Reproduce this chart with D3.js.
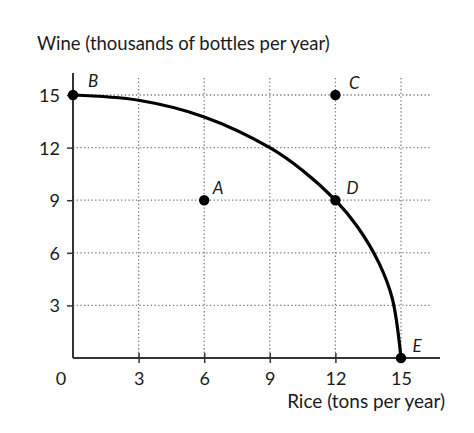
<!DOCTYPE html>
<html><head><meta charset="utf-8">
<script src="https://cdn.jsdelivr.net/npm/d3@7"></script>
<style>body{margin:0;background:#fff}svg{display:block}text{font-family:Lato,"Open Sans",sans-serif;fill:#1a1a1a}</style>
</head><body><svg id="c" width="474" height="433"></svg>
<script>
const xTicks = [3, 6, 9, 12, 15];
const yTicks = [3, 6, 9, 12, 15];
const ppfRice = [0, 3, 6, 9, 10.5, 12, 13, 14, 14.6, 15];
const ppfWine = [15, 14.7, 13.75, 12, 10.7, 9, 7.5, 5.4, 3.4, 0];
const pointLabels = ["B", "A", "C", "D", "E"];
const pointRice = [0, 6, 12, 12, 15];
const pointWine = [15, 9, 15, 9, 0];
const yTitle = "Wine (thousands of bottles per year)";
const xTitle = "Rice (tons per year)";

const svg = d3.select("#c");
const x = d3.scaleLinear().domain([0, 15]).range([73, 401]);
const y = d3.scaleLinear().domain([0, 15]).range([358, 95]);

// grid
const grid = svg.append("g").attr("stroke", "#777").attr("stroke-width", 1.3).attr("stroke-dasharray", "1.3,2.4");
grid.selectAll("line.v").data(xTicks).join("line")
  .attr("x1", d => x(d)).attr("x2", d => x(d)).attr("y1", 78).attr("y2", y(0));
grid.selectAll("line.h").data(yTicks).join("line")
  .attr("y1", d => y(d)).attr("y2", d => y(d)).attr("x1", x(0)).attr("x2", 432);

// axes
const xAxis = d3.axisBottom(x).tickValues(xTicks).tickSize(0).tickPadding(0).tickFormat(d3.format("d"));
const yAxis = d3.axisLeft(y).tickValues(yTicks).tickSize(0).tickPadding(13).tickFormat(d3.format("d"));
const gx = svg.append("g").attr("transform", `translate(0,${y(0)})`).call(xAxis);
const gy = svg.append("g").attr("transform", `translate(${x(0)},0)`).call(yAxis);
gx.select(".domain").remove(); gy.select(".domain").remove();
[gx, gy].forEach(g => g.selectAll("text").attr("font-size", 18).attr("font-family", "Lato").attr("fill", "#1a1a1a"));
gx.selectAll("text").attr("dy", null).attr("y", 27);
gy.selectAll("text").attr("dy", "0.36em");
gx.selectAll(".tick").append("line").attr("y1", -5).attr("y2", 5).attr("stroke", "#333").attr("stroke-width", 1.5);
gy.selectAll(".tick").append("line").attr("x1", -6).attr("x2", 0).attr("stroke", "#333").attr("stroke-width", 1.5);
svg.append("line").attr("x1", x(0)).attr("x2", 440).attr("y1", y(0)).attr("y2", y(0)).attr("stroke", "#333").attr("stroke-width", 2);
svg.append("line").attr("x1", x(0)).attr("x2", x(0)).attr("y1", 73).attr("y2", y(0)).attr("stroke", "#333").attr("stroke-width", 2);
svg.append("text").attr("x", 61).attr("y", 385).attr("text-anchor", "middle").attr("font-size", 18).text("0");

// titles
function fit(t, w) { const l = t.node().getComputedTextLength(); const fs = +t.attr("font-size"); t.attr("font-size", fs * w / l); }
const yt = svg.append("text").attr("x", 37).attr("y", 50).attr("font-size", 16).text(yTitle); fit(yt, 293);
const xt = svg.append("text").attr("x", 445).attr("y", 408).attr("text-anchor", "end").attr("font-size", 16).text(xTitle); fit(xt, 158);

// curve
const ppf = ppfRice.map((r, i) => [r, ppfWine[i]]);
svg.append("path").datum(ppf).attr("fill", "none").attr("stroke", "#000").attr("stroke-width", 3.2)
  .attr("d", d3.line().x(d => x(d[0])).y(d => y(d[1])).curve(d3.curveCatmullRom.alpha(0.5)));

// points
const pts = pointLabels.map((l, i) => ({ l, r: pointRice[i], w: pointWine[i] }));
svg.selectAll("circle.p").data(pts).join("circle").attr("cx", d => x(d.r)).attr("cy", d => y(d.w)).attr("r", 5.2).attr("fill", "#000");
const off = { B: [20, -8], A: [14, -6], C: [19, -6], D: [17, -6], E: [16, -6] };
svg.selectAll("text.pl").data(pts).join("text").attr("x", d => x(d.r) + off[d.l][0]).attr("y", d => y(d.w) + off[d.l][1])
  .attr("text-anchor", "middle").attr("font-size", 17).attr("font-style", "italic").text(d => d.l);
</script></body></html>
